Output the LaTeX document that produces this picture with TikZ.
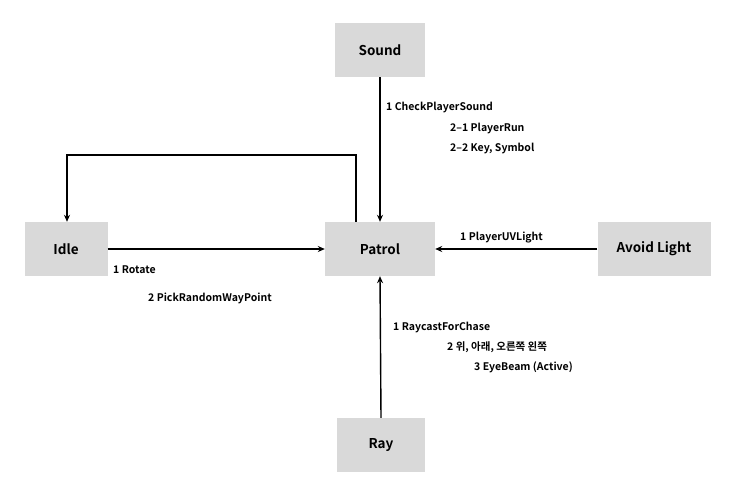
\documentclass[tikz,border=0pt]{standalone}
\usepackage{fontspec}
\setmainfont{Noto Sans CJK KR}[BoldFont={Noto Sans CJK KR Bold}]
\usetikzlibrary{arrows.meta, positioning}
\definecolor{boxgray}{HTML}{D9D9D9}
\begin{document}
\begin{tikzpicture}[
    x=1pt, y=-1pt,
    state/.style={rectangle, fill=boxgray, minimum height=54pt, font=\bfseries\fontsize{13.5}{15}\selectfont},
    arrow/.style={-{Stealth[length=7pt,width=6pt]}, line width=1.4pt},
    lbl/.style={anchor=west, inner sep=0pt, font=\bfseries\fontsize{10.5}{12}\selectfont}
]
    \useasboundingbox (0,0) rectangle (749,496);
    \node[state, minimum width=90pt]  (sound)  at (380,50)  {Sound};
    \node[state, minimum width=83pt]  (idle)   at (66,249)  {Idle};
    \node[state, minimum width=110pt] (patrol) at (380,249) {Patrol};
    \node[state, minimum width=113pt] (avoid)  at (654,249) {Avoid Light};
    \node[state, minimum width=88pt]  (ray)    at (381,445) {Ray};

    \draw[arrow] (sound.south) -- (patrol.north);
    \draw[arrow] (idle.east) -- (patrol.west);
    \draw[arrow] (avoid.west) -- (patrol.east);
    \draw[arrow] (ray.north) -- (patrol.south);
    \coordinate (loopa) at (356,155);
    \coordinate (loopb) at (67,155);
    \draw[arrow] (patrol.north -| loopa) -- (loopa) -- (loopb) -- (idle.north -| loopb);

    % labels
    \node[lbl] (l1) at (386,107) {1 CheckPlayerSound};
    \node[lbl] (l2) at (450,128) {2--1 PlayerRun};
    \node[lbl] (l3) at (450,148) {2--2 Key, Symbol};
    \node[lbl] (l4) at (460,238) {1 PlayerUVLight};
    \node[lbl] (l5) at (113,270) {1 Rotate};
    \node[lbl] (l6) at (148,298) {2 PickRandomWayPoint};
    \node[lbl] (l7) at (393,327) {1 RaycastForChase};
    \node[lbl] (l8) at (447,347) {2 위, 아래, 오른쪽 왼쪽};
    \node[lbl] (l9) at (474,367) {3 EyeBeam (Active)};
\end{tikzpicture}
\end{document}
